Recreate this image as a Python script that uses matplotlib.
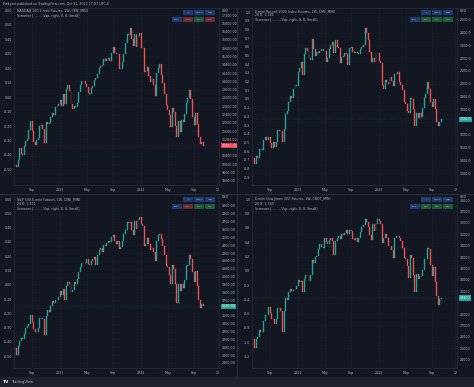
import matplotlib.pyplot as plt
import numpy as np
from matplotlib.patches import Rectangle
from matplotlib.transforms import blended_transform_factory

# weekly closes, week 0 = Jun 15 2020 ... week 121 = Oct 10 2022
nq = [9950, 9850, 10210, 10770, 10500, 10460, 10900, 11140, 11200, 11630,
      12110, 11620, 11090, 10940, 11180, 11260, 11850, 11890, 11710, 11050,
      12020, 11930, 11970, 12260, 12460, 12380, 12750, 12800, 12890, 13100,
      12800, 13370, 12920, 13610, 13810, 13530, 12910, 12670, 12820, 12780,
      12950, 13480, 13840, 14040, 14000, 13860, 13720, 13430, 13400, 13690,
      13770, 14070, 14140, 14360, 14640, 14720, 14800, 15100, 14960, 15100,
      15150, 15000, 15370, 15650, 15380, 15300, 15300, 14600, 14600, 14950,
      15300, 15850, 16300, 16230, 16570, 16030, 15710, 16300, 15650, 16170,
      16320, 15600, 15610, 14450, 14500, 14700, 14250, 13990, 14100, 13840,
      13300, 14400, 14660, 14860, 14300, 13900, 13400, 12850, 12600, 12400,
      11800, 12700, 12500, 11830, 11300, 12100, 11570, 12130, 12060, 12420,
      12950, 13200, 13580, 13130, 12300, 11900, 12460, 11940, 11320, 11000,
      11060, 10900]
rty = [1420, 1370, 1430, 1420, 1485, 1485, 1480, 1560, 1580, 1555,
       1585, 1535, 1500, 1540, 1505, 1545, 1640, 1630, 1630, 1540,
       1645, 1765, 1790, 1855, 1905, 1890, 1960, 1990, 1980, 2090,
       2120, 2170, 2070, 2230, 2280, 2260, 2200, 2190, 2350, 2270,
       2220, 2250, 2240, 2260, 2270, 2260, 2260, 2170, 2200, 2270,
       2300, 2330, 2240, 2340, 2290, 2280, 2160, 2210, 2220, 2240,
       2230, 2150, 2280, 2290, 2250, 2240, 2250, 2240, 2230, 2270,
       2290, 2300, 2440, 2400, 2340, 2250, 2170, 2200, 2170, 2240,
       2240, 2180, 2160, 1990, 1960, 2030, 2010, 2000, 2050, 2020,
       1980, 2080, 2080, 2090, 2010, 1990, 1950, 1860, 1840, 1790,
       1770, 1890, 1880, 1800, 1670, 1770, 1730, 1770, 1740, 1810,
       1890, 1920, 2010, 1960, 1860, 1820, 1880, 1800, 1700, 1670,
       1700, 1720]
es = [3090, 3000, 3120, 3180, 3215, 3210, 3265, 3345, 3370, 3395,
      3505, 3420, 3335, 3300, 3290, 3340, 3470, 3475, 3455, 3260,
      3500, 3580, 3550, 3630, 3690, 3660, 3700, 3700, 3740, 3820,
      3760, 3840, 3700, 3880, 3930, 3900, 3800, 3830, 3930, 3900,
      3970, 4060, 4120, 4180, 4170, 4170, 4220, 4165, 4150, 4200,
      4230, 4245, 4150, 4270, 4340, 4360, 4320, 4400, 4390, 4430,
      4460, 4440, 4500, 4530, 4450, 4420, 4450, 4350, 4380, 4460,
      4540, 4600, 4690, 4680, 4690, 4590, 4530, 4710, 4610, 4720,
      4760, 4670, 4650, 4390, 4420, 4490, 4410, 4340, 4370, 4320,
      4200, 4460, 4530, 4540, 4480, 4390, 4270, 4130, 4120, 4020,
      3900, 4150, 4100, 3900, 3670, 3910, 3820, 3900, 3860, 3960,
      4130, 4150, 4280, 4230, 4060, 3930, 4070, 3880, 3700, 3600,
      3650, 3620]
ym = [25800, 25000, 25800, 26000, 26600, 26400, 26400, 27400, 27900, 27900,
      28600, 28100, 27600, 27600, 27100, 27600, 28500, 28500, 28300, 26400,
      28300, 29400, 29200, 29900, 30200, 30000, 30100, 30200, 30500, 31000,
      30800, 30900, 29900, 31100, 31400, 31400, 30900, 31400, 32700, 32500,
      33000, 33100, 33700, 34100, 33900, 33800, 34700, 34300, 34100, 34500,
      34700, 34400, 33200, 34400, 34700, 34800, 34600, 35000, 34900, 35100,
      35400, 35000, 35400, 35300, 34600, 34500, 34700, 34300, 34700, 35200,
      35600, 35800, 36300, 36100, 35600, 34900, 34500, 35900, 35300, 35900,
      36300, 36200, 35900, 34200, 34700, 35000, 34700, 34000, 34000, 33600,
      32900, 34700, 34800, 34800, 34700, 34400, 33800, 32900, 32800, 32200,
      31200, 33200, 32900, 31400, 29900, 31500, 31100, 31300, 31300, 31900,
      32800, 32800, 33800, 33700, 32300, 31300, 32100, 30800, 29600, 28800,
      29300, 29400]

time_weeks = [11, 29, 46, 63, 81, 98, 115, 130]
time_labels = ['Sep', '2021', 'May', 'Sep', '2022', 'May', 'Sep', '12']

W, H = 474, 387
BG = '#131722'
GRID = '#1b1f2b'
LINE = '#2a2e39'
TXT = '#b2b5be'
UP = '#26a69a'
DOWN = '#ef5350'
GRAY = '#787b86'
BLUE = '#1f3d73'
RED = '#6e2b33'
GREEN = '#1e5a3c'
FS = 2.3

fig = plt.figure(figsize=(W / 100, H / 100), dpi=100, facecolor=BG)


def fx(x):
    return x / W


def fy(y):
    return 1 - y / H


def box(x0, y0, x1, y1):
    return [fx(x0), fy(y1), (x1 - x0) / W, (y1 - y0) / H]


def button(x0, y0, w, h, color, label):
    fig.patches.append(Rectangle((fx(x0), fy(y0 + h)), w / W, h / H, transform=fig.transFigure,
                                 facecolor=color, edgecolor='none'))
    fig.text(fx(x0 + w / 2), fy(y0 + h / 2), label, fontsize=1.4, color='#d1d4dc',
             ha='center', va='center')


def draw_panel(x0, y0, x1, y1, closes, plim, pticks, pfmt, llim, lticks, lfmt,
               last_col, lines, row2):
    ax = fig.add_axes(box(x0, y0, x1, y1))
    ax.set_facecolor(BG)
    ax.set_xlim(-0.6, 131)
    ax.set_ylim(llim)
    ax.set_yticks(lticks)
    ax.set_yticklabels([lfmt % v for v in lticks])
    ax.set_xticks(time_weeks)
    ax.set_xticklabels(time_labels)
    for w in time_weeks:
        ax.axvline(w, color=GRID, lw=0.4, zorder=0)
    ax.tick_params(axis='y', length=0, pad=1.2, labelsize=FS, labelcolor=TXT)
    ax.tick_params(axis='x', length=0, pad=2.0, labelsize=FS, labelcolor=TXT)
    for s in ax.spines.values():
        s.set_color(LINE)
        s.set_linewidth(0.5)
    ax.spines['top'].set_visible(False)

    c = np.array(closes, dtype=float)
    last = c[-1]
    per_px = (plim[1] - plim[0]) / (y1 - y0)

    axp = ax.twinx()
    axp.set_ylim(plim)
    axp.set_yticks(pticks)
    # the last-price tag hides the scale labels right next to it
    axp.set_yticklabels(['' if abs(p - last) < 5.5 * per_px else pfmt % p for p in pticks])
    axp.tick_params(axis='y', length=0, pad=2.2, labelsize=FS, labelcolor=TXT)
    for s in axp.spines.values():
        s.set_visible(False)
    for p in pticks:
        axp.axhline(p, color=GRID, lw=0.4, zorder=0)

    o = np.r_[c[0], c[:-1]]
    x = np.arange(len(c))
    chg = c - o
    colors = np.where(np.abs(chg) < 0.006 * o, GRAY, np.where(chg >= 0, UP, DOWN))
    axp.bar(x, chg, bottom=o, width=0.62, color=colors, edgecolor=colors, linewidth=0.25, zorder=3)

    axp.axhline(last, color=last_col, lw=0.3, ls=':', alpha=0.6, zorder=2)
    tr = blended_transform_factory(axp.transAxes, axp.transData)
    axp.text(1.012, last, pfmt % last, transform=tr, fontsize=FS, color='white', va='center',
             ha='left', clip_on=False,
             bbox=dict(boxstyle='square,pad=0.25', facecolor=last_col, edgecolor='none'))

    # header
    for t, dy in lines:
        fig.text(fx(x0 + 3), fy(y0 + dy), t, fontsize=FS, color=TXT, va='center', ha='left')
    fig.text(fx(x1 + 3), fy(y0 + 2.5), 'USD', fontsize=FS, color=TXT, va='center', ha='left')

    # buttons
    bw, gap = 10.3, 0.8
    row1 = [('-%', BLUE), ('Last %', BLUE), ('Mean', BLUE)]
    for i, (lab, col) in enumerate(row1):
        button(x1 - 3 - (3 - i) * (bw + gap), y0 + 2.2, bw, 4.8, col, lab)
    for i, (lab, col) in enumerate(row2):
        button(x1 - 3 - (4 - i) * (bw + gap), y0 + 8.8, bw, 4.8, col, lab)


# top-left: NQ
draw_panel(14, 8, 219, 185, nq, (9000, 17540), np.arange(9200, 17201, 400), '%.2f',
           (-0.607, 0.614), np.round(np.arange(0.6, -0.51, -0.1), 2), '%.2f', '#f23645',
           [('NASDAQ 100 E-mini Futures, 1W, CME_MINI', 2.5),
            ('Screener [..., ..., Vqs, right, 8, 8, Small]', 8)],
           [('Ratio', BLUE), ('-0.10%', RED), ('1.0%', GREEN), ('-0.3%', RED)])

# top-right: RTY
draw_panel(252, 8, 457, 185, rty, (1206, 2594), np.arange(1300, 2501, 100), '%.1f',
           (-0.989, 1.046), np.round(np.arange(1.0, -0.91, -0.1), 1), '%.1f', UP,
           [('E-mini Russell 2000 Index Futures, 1W, CME_MINI', 3),
            ('20 B  1.281', 7.5),
            ('Screener [..., ..., Vqs, right, 8, 8, Small]', 12)],
           [('Ratio', BLUE), ('0.3%', GREEN), ('1.2%', GREEN), ('2.0%', GREEN)])

# bottom-left: ES
draw_panel(14, 195, 219, 368, es, (2836, 5040), np.arange(2900, 4901, 100), '%.2f',
           (-0.582, 0.628), np.round(np.arange(0.6, -0.51, -0.1), 2), '%.2f', UP,
           [('S&P 500 E-mini Futures, 1W, CME_MINI', 4),
            ('20 B  2.121', 9),
            ('Screener [..., ..., Vqs, right, 8, 8, Small]', 14)],
           [('Ratio', BLUE), ('-0.2%', RED), ('1.1%', GREEN), ('1.4%', GREEN)])

# bottom-right: YM
draw_panel(252, 195, 457, 368, ym, (23266, 38440), np.arange(24000, 38001, 1000), '%.0f',
           (-1.36, 1.06), np.round(np.arange(1.0, -1.21, -0.2), 1), '%.1f', UP,
           [('E-mini Dow Jones ($5) Futures, 1W, CBOT_MINI', 4),
            ('20 B  1.745', 9),
            ('Screener [..., ..., Vqs, right, 8, 8, Small]', 14)],
           [('Ratio', BLUE), ('0.5%', GREEN), ('1.3%', GREEN), ('1.8%', GREEN)])

# dividers, header and footer
fig.add_artist(plt.Line2D([fx(237), fx(237)], [fy(8), fy(377)], color=LINE, lw=0.8))
fig.add_artist(plt.Line2D([0, 1], [fy(194), fy(194)], color=LINE, lw=0.8))
fig.add_artist(plt.Line2D([0, 1], [fy(8), fy(8)], color=LINE, lw=0.5))
fig.patches.append(Rectangle((0, 0), 1, 10 / H, transform=fig.transFigure,
                             facecolor='#1e222d', edgecolor='none'))
fig.text(fx(3), fy(4), 'Pinkpad published on TradingView.com, Oct 11, 2022 17:07 UTC-4',
         fontsize=FS, color=TXT, va='center', ha='left')
fig.text(fx(3), fy(382), 'TV', fontsize=3.2, color='white', weight='bold', va='center', ha='left')
fig.text(fx(11), fy(382), 'TradingView', fontsize=2.6, color=TXT, va='center', ha='left')

fig.savefig('out.png', dpi=100, facecolor=BG)
